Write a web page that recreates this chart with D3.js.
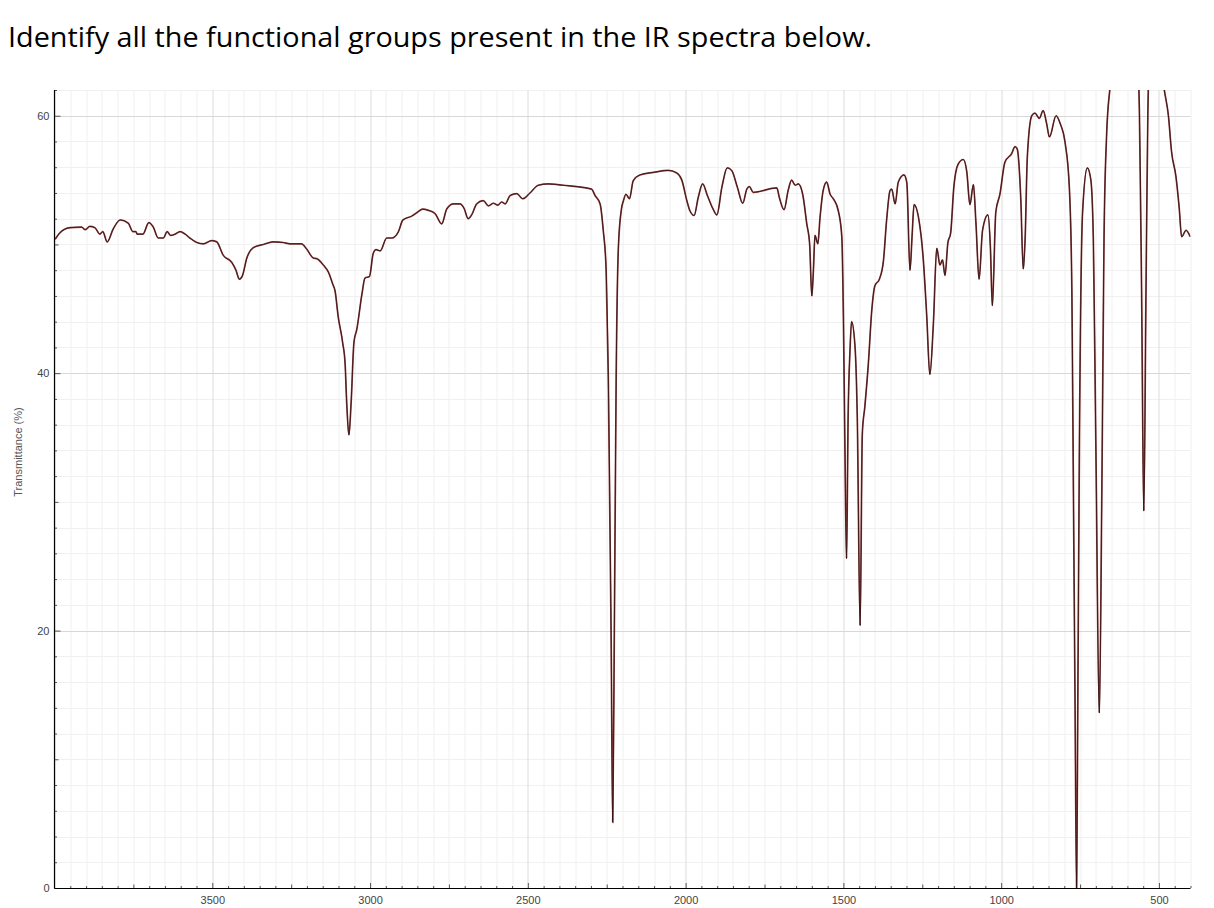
<!DOCTYPE html>
<html>
<head>
<meta charset="utf-8">
<script src="https://cdn.jsdelivr.net/npm/d3@7"></script>
<style>
  body { margin: 0; background: #fff; }
  svg { display: block; }
  .tick text { font-family: "Liberation Sans", Arial, sans-serif; font-size: 11px; fill: #444; }
</style>
</head>
<body>
<div id="chart"></div>
<script>
// IR spectrum (wavenumber in cm-1, transmittance in %)
var wavenumbers = [
    3998, 3983, 3951, 3914, 3903, 3888, 3872, 3856, 3847, 3833, 3814, 3792, 3766, 3752, 3742, 3738,
    3720, 3701, 3687, 3671, 3655, 3643, 3632, 3618, 3602, 3586, 3571, 3549, 3528, 3502, 3486, 3465,
    3438, 3425, 3414, 3404, 3391, 3370, 3338, 3307, 3275, 3254, 3217, 3201, 3180, 3169, 3148, 3132,
    3118, 3111, 3101, 3087, 3079, 3074, 3067, 3060, 3051, 3042, 3026, 3016, 3002, 2990, 2981, 2968,
    2947, 2931, 2910, 2896, 2868, 2850, 2833, 2815, 2794, 2773, 2757, 2736, 2715, 2702, 2689, 2678,
    2662, 2641, 2625, 2609, 2595, 2583, 2572, 2556, 2535, 2516, 2493, 2467, 2435, 2388, 2298, 2287,
    2271, 2261, 2252, 2245, 2236, 2231, 2226, 2220, 2213, 2203, 2197, 2189, 2178, 2166, 2145, 2102,
    2055, 2028, 2012, 1996, 1986, 1973, 1960, 1946, 1931, 1914, 1901, 1885, 1868, 1854, 1836, 1819,
    1806, 1798, 1786, 1711, 1703, 1688, 1675, 1664, 1653, 1643, 1629, 1616, 1607, 1600, 1595, 1590,
    1581, 1574, 1564, 1553, 1542, 1532, 1516, 1505, 1500, 1495, 1490, 1485, 1479, 1474, 1463, 1456,
    1447, 1440, 1432, 1421, 1410, 1400, 1386, 1373, 1363, 1352, 1347, 1336, 1326, 1308, 1299, 1289,
    1282, 1276, 1262, 1247, 1236, 1226, 1215, 1204, 1194, 1186, 1178, 1169, 1160, 1150, 1136, 1120,
    1109, 1099, 1088, 1080, 1070, 1059, 1042, 1034, 1028, 1017, 1004, 988, 967, 956, 949, 938,
    930, 924, 917, 903, 893, 879, 867, 856, 847, 826, 813, 798, 784, 776, 771, 766,
    761, 757, 752, 742, 727, 716, 708, 700, 689, 681, 674, 666, 655, 640, 600, 565,
    562, 555, 548, 541, 535, 530, 500, 483, 470, 460, 446, 436, 428, 414, 401
];
var transmittance = [
    50.4, 50.9, 51.3, 51.35, 51.15, 51.4, 51.3, 50.8, 51.0, 50.2, 51.2, 51.9, 51.65, 51.0, 51.0, 50.8,
    50.8, 51.7, 51.35, 50.5, 50.5, 51.0, 50.7, 50.8, 51.0, 50.8, 50.5, 50.15, 50.05, 50.3, 50.2, 49.15,
    48.6, 48.0, 47.3, 47.6, 48.9, 49.75, 50.0, 50.2, 50.15, 50.05, 50.05, 49.65, 48.95, 48.9, 48.4, 47.85,
    46.9, 46.4, 44.4, 42.4, 40.7, 37.7, 35.2, 37.7, 42.4, 43.4, 46.1, 47.4, 47.5, 49.3, 49.6, 49.5,
    50.5, 50.5, 51.0, 51.9, 52.2, 52.5, 52.75, 52.65, 52.4, 51.6, 52.75, 53.15, 53.15, 52.8, 52.0, 52.3,
    53.15, 53.4, 53.0, 53.2, 53.05, 53.3, 53.15, 53.8, 53.95, 53.55, 54.0, 54.6, 54.7, 54.6, 54.3, 53.8,
    53.15, 51.1, 48.1, 39.7, 19.5, 5.1, 19.5, 39.7, 49.8, 52.8, 53.4, 53.9, 53.55, 54.95, 55.4, 55.6,
    55.75, 55.55, 55.0, 53.4, 52.6, 52.25, 53.65, 54.7, 53.8, 52.8, 52.3, 54.45, 55.95, 55.75, 54.45, 53.2,
    54.3, 54.5, 54.05, 54.4, 53.65, 52.7, 54.2, 55.0, 54.6, 54.7, 53.9, 51.6, 50.05, 46.0, 48.0, 50.7,
    50.05, 52.1, 54.2, 54.85, 53.9, 53.55, 52.6, 50.6, 44.4, 34.0, 25.6, 36.6, 41.8, 44.0, 42.0, 36.6,
    20.4, 35.3, 37.4, 40.7, 44.9, 46.8, 47.3, 48.75, 51.9, 54.2, 54.3, 53.15, 54.85, 55.4, 54.8, 48.0,
    50.8, 53.1, 52.1, 48.9, 44.5, 39.9, 43.75, 49.7, 48.4, 48.8, 47.6, 50.1, 50.9, 54.45, 56.25, 56.6,
    55.65, 53.1, 54.65, 51.7, 47.3, 51.1, 52.3, 49.7, 45.25, 52.5, 53.9, 56.4, 57.05, 57.6, 57.4, 53.65,
    48.1, 50.5, 56.85, 60.0, 60.2, 59.8, 60.4, 59.4, 58.35, 60.0, 59.4, 58.0, 54.45, 46.5, 30.7, 14.8,
    0.0, 14.8, 34.6, 52.5, 55.95, 55.05, 50.5, 34.6, 13.6, 30.7, 50.5, 58.4, 62.2, 65, 66, 63,
    60.4, 46.5, 29.3, 46.5, 60.4, 64, 65, 62.0, 60.0, 57.2, 55.25, 52.9, 50.6, 51.1, 50.6
];
var xTickLabels = [3500, 3000, 2500, 2000, 1500, 1000, 500];
var yTickLabels = [0, 20, 40, 60];
var xDomain = [4000, 400];
var yDomain = [0, 62];
var titleText = 'Identify all the functional groups present in the IR spectra below.';
var yAxisTitle = 'Transmittance (%)';

var width = 1214, height = 908;
var margin = { left: 54.5, right: 23.5, top: 90, bottom: 20 };
var plotW = width - margin.left - margin.right;
var plotH = height - margin.top - margin.bottom;

var svg = d3.select('#chart').append('svg')
    .attr('width', width)
    .attr('height', height);

svg.append('text')
    .attr('x', 8)
    .attr('y', 47)
    .attr('textLength', 864)
    .attr('lengthAdjust', 'spacingAndGlyphs')
    .style('font-family', '"Open Sans", "Noto Sans", sans-serif')
    .style('font-size', '27px')
    .style('fill', '#000')
    .text(titleText);

var x = d3.scaleLinear().domain(xDomain).range([0, plotW]);
var y = d3.scaleLinear().domain(yDomain).range([plotH, 0]);

var g = svg.append('g')
    .attr('transform', 'translate(' + margin.left + ',' + margin.top + ')');

// grid
var xMinor = d3.range(400, 4001, 50).filter(function(v) { return v % 500 !== 0; });
var xMajor = d3.range(500, 4001, 500);
var yMinor = d3.range(0, 63, 2).filter(function(v) { return v % 20 !== 0; });

g.append('g').selectAll('line')
    .data(xMinor).enter().append('line')
    .attr('x1', function(d) { return Math.round(x(d)) + 0.5; })
    .attr('x2', function(d) { return Math.round(x(d)) + 0.5; })
    .attr('y1', 0).attr('y2', plotH)
    .attr('stroke', '#f0f0f0');
g.append('g').selectAll('line')
    .data(yMinor).enter().append('line')
    .attr('y1', function(d) { return Math.round(y(d)) + 0.5; })
    .attr('y2', function(d) { return Math.round(y(d)) + 0.5; })
    .attr('x1', 0).attr('x2', plotW)
    .attr('stroke', '#f0f0f0');
g.append('g').selectAll('line')
    .data(xMajor).enter().append('line')
    .attr('x1', function(d) { return Math.round(x(d)) + 0.5; })
    .attr('x2', function(d) { return Math.round(x(d)) + 0.5; })
    .attr('y1', 0).attr('y2', plotH)
    .attr('stroke', '#dcdcdc');
g.append('g').selectAll('line')
    .data([20, 40, 60]).enter().append('line')
    .attr('y1', function(d) { return Math.round(y(d)) + 0.5; })
    .attr('y2', function(d) { return Math.round(y(d)) + 0.5; })
    .attr('x1', 0).attr('x2', plotW)
    .attr('stroke', '#d8d8d8');

// spectrum
g.append('clipPath').attr('id', 'plotclip')
    .append('rect').attr('width', plotW).attr('height', plotH);

var points = wavenumbers.map(function(w, i) { return [w, transmittance[i]]; });
var line = d3.line()
    .x(function(d) { return x(d[0]); })
    .y(function(d) { return y(d[1]); })
    .curve(d3.curveMonotoneX);

var spec = g.append('g').attr('clip-path', 'url(#plotclip)');
spec.append('path')
    .datum(points)
    .attr('d', line)
    .attr('fill', 'none')
    .attr('stroke', '#8c4040')
    .attr('stroke-width', 1.7);
spec.append('path')
    .datum(points)
    .attr('d', line)
    .attr('fill', 'none')
    .attr('stroke', '#220808')
    .attr('stroke-width', 0.7);

// axes: minor, medium and labelled ticks
function xAxisLayer(values, size, labels) {
    var ax = d3.axisBottom(x).tickValues(values).tickSize(-size).tickPadding(8);
    if (!labels) ax.tickFormat('');
    else ax.tickFormat(d3.format('d'));
    var a = g.append('g').attr('transform', 'translate(0,' + plotH + ')').call(ax);
    a.select('.domain').remove();
    a.selectAll('.tick line').attr('stroke', '#555');
    return a;
}
function yAxisLayer(values, size, labels) {
    var ax = d3.axisLeft(y).tickValues(values).tickSize(-size).tickPadding(5);
    if (!labels) ax.tickFormat('');
    var a = g.append('g').call(ax);
    a.select('.domain').remove();
    a.selectAll('.tick line').attr('stroke', '#555');
    return a;
}
xAxisLayer(d3.range(400, 4001, 50).filter(function(v) { return v % 250 !== 0; }), 2, false);
xAxisLayer(d3.range(750, 4001, 500), 3.5, false);
xAxisLayer(xTickLabels, 5, true);
yAxisLayer(d3.range(2, 63, 2).filter(function(v) { return v % 10 !== 0; }), 2.5, false);
yAxisLayer([10, 30, 50], 4, false);
yAxisLayer(yTickLabels, 6, true);

g.append('line')
    .attr('x1', 0).attr('x2', plotW)
    .attr('y1', plotH + 0.5).attr('y2', plotH + 0.5)
    .attr('stroke', '#000').attr('stroke-width', 1.2);
g.append('line')
    .attr('x1', 0).attr('x2', 0)
    .attr('y1', 0).attr('y2', plotH + 0.5)
    .attr('stroke', '#000').attr('stroke-width', 1.2);

svg.append('text')
    .attr('transform', 'translate(22,452) rotate(-90)')
    .attr('text-anchor', 'middle')
    .style('font-family', '"Liberation Sans", Arial, sans-serif')
    .style('font-size', '11px')
    .style('fill', '#555')
    .text(yAxisTitle);
</script>
</body>
</html>
